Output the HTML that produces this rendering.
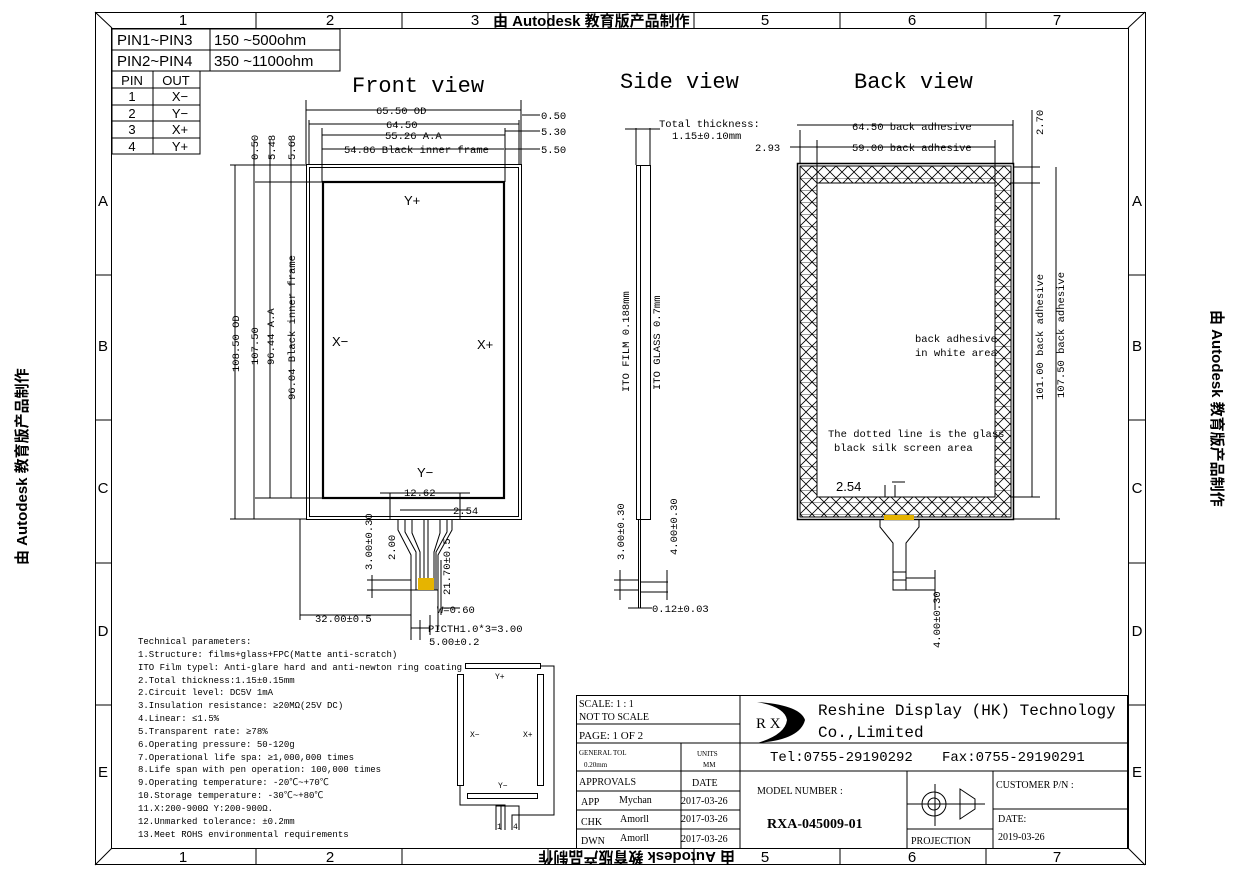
<!DOCTYPE html>
<html><head><meta charset="utf-8"><style>
html,body{margin:0;padding:0;background:#fff}
svg{display:block}
text{font-family:"Liberation Mono","Noto Sans CJK SC",monospace;fill:#000}
.s text,text.s{font-family:"Liberation Sans","Noto Sans CJK SC",sans-serif}
.sf text,text.sf{font-family:"Liberation Serif","Noto Serif CJK SC",serif}
</style></head><body>
<svg width="1240" height="877" viewBox="0 0 1240 877" xmlns="http://www.w3.org/2000/svg">
<defs>
<pattern id="h" x="800" y="166" width="12" height="12" patternUnits="userSpaceOnUse">
<rect width="12" height="12" fill="#fff"/>
<path d="M0 0L12 12M12 0L0 12M0 0H12" stroke="#000" stroke-width="0.8" fill="none"/>
</pattern>
</defs>
<g fill="none" stroke="#000" stroke-width="1">
<rect x="95.5" y="12.5" width="1050" height="852"/>
<rect x="111.5" y="28.5" width="1017" height="820"/>
<path d="M95 12L112 28M1145 12L1128 28M95 865L112 848M1145 865L1128 848"/>
<path d="M256 12V28M402 12V28M548 12V28M694 12V28M840 12V28M986 12V28"/>
<path d="M256 848V865M402 848V865M548 848V865M694 848V865M840 848V865M986 848V865"/>
<path d="M95 275H112M95 420H112M95 563H112M95 705H112M1128 275H1145M1128 420H1145M1128 563H1145M1128 705H1145"/>
<rect x="112" y="29" width="228" height="42"/>
<path d="M112 50H340M210 29V71"/>
<path d="M112 71V154H200V71M112 88H200M112 105H200M112 121H200M112 138H200M153 71V154"/>
<rect x="306.5" y="164.5" width="215" height="355"/>
<rect x="309.5" y="167.5" width="209" height="349"/>
<rect x="323" y="182" width="181" height="316" stroke-width="2.2"/>
<path d="M306 100V164M309 120V164M322 128V182M519 120V164M521 100V164M505 128V182"/>
<path d="M306 110H521M309 124H519M322 135H505M322 149H504M522 115H540M505 131H540M505 149H540"/>
<path d="M230 165H306M255 182H322M265 182H322M230 519H306M265 498H322M255 498H322"/>
<path d="M235 165V519M254 165V519M270 182V498M291 182V498M254 140V165M270 140V182M291 140V182"/>
<path d="M398 519V530L411 555V590H438V555L452 530V519"/>
<path d="M405 519V532L416 552V590M412 519V533L420 552V590M440 519V533L434 552V590M447 519V532L436 552V590M424 519V590M428 519V590"/>
<path d="M390 493V519M460 493V519M380 493H470M400 510H470"/>
<path d="M367 580H411M367 590H411M372 575V598M411 590V640M438 590V630M300 519V620M300 615H411M420 620V640M430 615V635M420 628H430M411 628H420M441 560V615M441 608H460"/>
<rect x="636.5" y="165.5" width="14" height="354"/>
<path d="M640.5 165V520M638.5 520V608M640.5 520V608M636 128V165M650 128V165M625 129H660"/>
<path d="M614 580H638M614 590H638M640 582H668M640 592H668M620 570V600M667 570V600M628 608H652"/>
<rect x="797.5" y="163.5" width="216" height="356" stroke-width="1.5"/>
<path d="M800 166H1011V517H800Z M817 183V497H995V183Z" fill="url(#h)" fill-rule="evenodd"/>
<rect x="817" y="183" width="178" height="314" fill="#fff"/>
<path d="M800 130V163M1013 120V163M817 140V183M995 140V183M797 125H1013M790 147H995M1014 167H1040M1010 183H1040M1032 110V183M1010 497H1040M1014 519H1060M1032 183V497M1056 167V519"/>
<path d="M892 482H905M885 485V497M895 485V497"/>
<path d="M880 519V527L893 543V580H906V543L919 527V519M893 572H906V590H893Z"/>
<path d="M906 578H935M906 590H935M935 570V610"/>
<rect x="884" y="515" width="30" height="5" fill="#e6b400" stroke="none"/>
<rect x="418" y="578" width="16" height="12" fill="#e6b400" stroke="none"/>
<rect x="465.5" y="663.5" width="75" height="5"/>
<rect x="457.5" y="674.5" width="6" height="111"/>
<rect x="537.5" y="674.5" width="6" height="111"/>
<rect x="467.5" y="793.5" width="70" height="5"/>
<path d="M541 666H554V815H512V830M460 786V805H505V830M496 830V806H519V830M501 805V830"/>
<rect x="576.5" y="695.5" width="551" height="153"/>
<path d="M740 695V848M576 724H740M576 743H1128M576 771H1128M576 791H740M576 810H740M576 829H740M681 743V848M907 771V848M993 771V848M907 829H993M993 809H1128"/>
<path d="M907 804H985M935 784V826M960 789V819L975 809V799Z"/>
<circle cx="934" cy="804" r="12"/><circle cx="934" cy="804" r="6"/>
</g>
<path d="M757 702Q800 705 805 720Q800 740 757 743Q785 735 787 720Q785 707 757 702Z" fill="#000"/>
<g font-size="15" class="s" text-anchor="middle">
<text x="183" y="25">1</text><text x="330" y="25">2</text><text x="475" y="25">3</text><text x="765" y="25">5</text><text x="912" y="25">6</text><text x="1057" y="25">7</text>
<text x="330" y="862">2</text><text x="183" y="862">1</text><text x="765" y="862">5</text><text x="912" y="862">6</text><text x="1057" y="862">7</text>
<text x="103" y="206">A</text><text x="103" y="351">B</text><text x="103" y="493">C</text><text x="103" y="636">D</text><text x="103" y="777">E</text>
<text x="1137" y="206">A</text><text x="1137" y="351">B</text><text x="1137" y="493">C</text><text x="1137" y="636">D</text><text x="1137" y="777">E</text>
</g>
<g font-size="15" font-weight="bold" class="s">
<text x="493" y="26">由 Autodesk 教育版产品制作</text>
<text transform="translate(735,852) rotate(180)">由 Autodesk 教育版产品制作</text>
<text transform="translate(27,565) rotate(-90)">由 Autodesk 教育版产品制作</text>
<text transform="translate(1212,310) rotate(90)">由 Autodesk 教育版产品制作</text>
</g>
<g font-size="15" class="s">
<text x="117" y="45">PIN1~PIN3</text><text x="214" y="45">150  ~500ohm</text>
<text x="117" y="66">PIN2~PIN4</text><text x="214" y="66">350  ~1100ohm</text>
</g>
<g font-size="13" class="s" text-anchor="middle">
<text x="132" y="85">PIN</text><text x="176" y="85">OUT</text>
<text x="132" y="101">1</text><text x="180" y="101">X−</text>
<text x="132" y="118">2</text><text x="180" y="118">Y−</text>
<text x="132" y="134">3</text><text x="180" y="134">X+</text>
<text x="132" y="151">4</text><text x="180" y="151">Y+</text>
</g>
<g font-size="22">
<text x="352" y="92">Front view</text><text x="620" y="88">Side view</text><text x="854" y="88">Back view</text>
</g>
<g font-size="10.5">
<text x="376" y="114">65.50 OD</text><text x="386" y="128">64.50</text><text x="385" y="139">55.26 A.A</text>
<text x="344" y="153">54.86 Black inner frame</text>
<text x="541" y="119">0.50</text><text x="541" y="135">5.30</text><text x="541" y="153">5.50</text>
<text transform="translate(258,160) rotate(-90)">0.50</text><text transform="translate(275,160) rotate(-90)">5.48</text><text transform="translate(295,160) rotate(-90)">5.68</text>
<text transform="translate(239,372) rotate(-90)">108.50 OD</text><text transform="translate(258,365) rotate(-90)">107.50</text>
<text transform="translate(274,365) rotate(-90)">96.44 A.A</text><text transform="translate(295,400) rotate(-90)">96.04 Black inner frame</text>
<text x="404" y="496">12.62</text><text x="453" y="514">2.54</text>
<text transform="translate(372,570) rotate(-90)">3.00±0.30</text><text transform="translate(395,560) rotate(-90)">2.00</text>
<text transform="translate(450,595) rotate(-90)">21.70±0.5</text>
<text x="437" y="613">W=0.60</text><text x="428" y="632">PICTH1.0*3=3.00</text><text x="429" y="645">5.00±0.2</text>
<text x="315" y="622">32.00±0.5</text>
<text x="659" y="127">Total thickness:</text><text x="672" y="139">1.15±0.10mm</text>
<text transform="translate(629,392) rotate(-90)">ITO FILM 0.188mm</text><text transform="translate(660,390) rotate(-90)">ITO GLASS 0.7mm</text>
<text transform="translate(624,560) rotate(-90)">3.00±0.30</text><text transform="translate(677,555) rotate(-90)">4.00±0.30</text>
<text x="652" y="612">0.12±0.03</text>
<text x="852" y="130">64.50 back adhesive</text><text x="852" y="151">59.00 back adhesive</text>
<text x="755" y="151">2.93</text><text transform="translate(1043,135) rotate(-90)">2.70</text>
<text transform="translate(1043,400) rotate(-90)">101.00 back adhesive</text><text transform="translate(1064,398) rotate(-90)">107.50 back adhesive</text>
<text x="915" y="342">back adhesive</text><text x="915" y="356">in white area</text>
<text x="828" y="437">The dotted line is the glass</text><text x="834" y="451">black silk screen area</text>
<text transform="translate(940,648) rotate(-90)">4.00±0.30</text>
</g>
<g font-size="13" class="s">
<text x="404" y="205">Y+</text><text x="332" y="346">X−</text><text x="477" y="349">X+</text><text x="417" y="477">Y−</text>
<text x="836" y="491">2.54</text>
</g>
<g font-size="9">
<text x="138" y="644">Technical parameters:</text>
<text x="138" y="657">1.Structure: films+glass+FPC(Matte anti-scratch)</text>
<text x="138" y="670">ITO Film typel: Anti-glare hard and anti-newton ring coating</text>
<text x="138" y="683">2.Total thickness:1.15±0.15mm</text>
<text x="138" y="695">2.Circuit level: DC5V 1mA</text>
<text x="138" y="708">3.Insulation resistance: ≥20MΩ(25V DC)</text>
<text x="138" y="721">4.Linear: ≤1.5%</text>
<text x="138" y="734">5.Transparent rate: ≥78%</text>
<text x="138" y="747">6.Operating pressure: 50-120g</text>
<text x="138" y="760">7.Operational life spa: ≥1,000,000 times</text>
<text x="138" y="772">8.Life span with pen operation: 100,000 times</text>
<text x="138" y="785">9.Operating temperature: -20℃~+70℃</text>
<text x="138" y="798">10.Storage temperature: -30℃~+80℃</text>
<text x="138" y="811">11.X:200-900Ω  Y:200-900Ω.</text>
<text x="138" y="824">12.Unmarked tolerance: ±0.2mm</text>
<text x="138" y="837">13.Meet ROHS environmental requirements</text>
<text x="495" y="679" font-size="8">Y+</text><text x="470" y="737" font-size="8">X−</text><text x="523" y="737" font-size="8">X+</text><text x="498" y="788" font-size="8">Y−</text>
<text x="497" y="829" font-size="8">1</text><text x="513" y="829" font-size="8">4</text>
</g>
<g font-size="10" class="sf">
<text x="579" y="707">SCALE: 1 : 1</text><text x="579" y="720">NOT TO SCALE</text>
<text x="579" y="739" font-size="11">PAGE:  1 OF 2</text>
<text x="579" y="755" font-size="7">GENERAL TOL</text><text x="584" y="767" font-size="7">0.20mm</text>
<text x="697" y="756" font-size="7">UNITS</text><text x="703" y="767" font-size="7">MM</text>
<text x="579" y="785">APPROVALS</text><text x="692" y="786">DATE</text>
<text x="581" y="805">APP</text><text x="619" y="803">Mychan</text><text x="681" y="804" class="s">2017-03-26</text>
<text x="581" y="825">CHK</text><text x="620" y="822">Amorll</text><text x="681" y="822" class="s">2017-03-26</text>
<text x="581" y="844">DWN</text><text x="620" y="841">Amorll</text><text x="681" y="842" class="s">2017-03-26</text>
<text x="757" y="794">MODEL NUMBER :</text>
<text x="767" y="828" font-size="14" font-weight="bold" class="s">RXA-045009-01</text>
<text x="911" y="844">PROJECTION</text>
<text x="996" y="788">CUSTOMER P/N :</text><text x="998" y="822">DATE:</text><text x="998" y="840">2019-03-26</text>
</g>
<text x="756" y="728" font-size="15" class="sf">R X</text>
<text x="818" y="715" font-size="16">Reshine Display (HK) Technology</text>
<text x="818" y="737" font-size="16">Co.,Limited</text>
<text x="770" y="761" font-size="14">Tel:0755-29190292</text><text x="942" y="761" font-size="14">Fax:0755-29190291</text>
</svg>
</body></html>
